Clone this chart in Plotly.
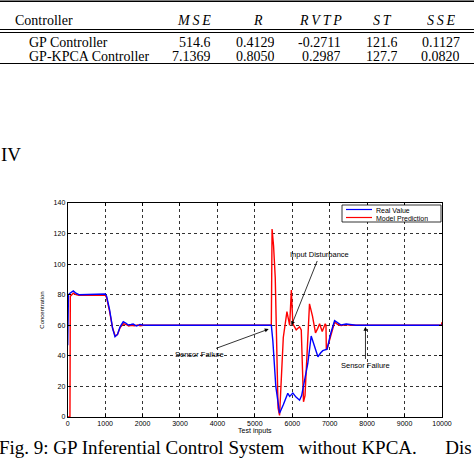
import plotly.graph_objects as go

W, H = 474, 459

# ---- table values ----
table_header = ["MSE", "R", "RVTP", "ST", "SSE"]
controllers = ["GP Controller", "GP-KPCA Controller"]
mse = ["514.6", "7.1369"]
r_val = ["0.4129", "0.8050"]
rvtp = ["-0.2711", "0.2987"]
st = ["121.6", "127.7"]
sse = ["0.1127", "0.0820"]

# ---- chart series ----
real_x = [0, 20, 60, 150, 220, 300, 1000, 1040, 1120, 1200, 1264, 1330, 1400, 1484,
          1550, 1618, 1690, 1750, 1840, 1930, 2000, 2090, 5440, 5480, 5560, 5660,
          5760, 5880, 5930, 6015, 6100, 6195, 6250, 6330, 6415, 6505, 6580, 6685,
          6760, 6815, 6930, 7030, 7130, 7220, 7305, 7440, 7560, 7700, 10000]
real_y = [47, 80, 81, 82.5, 81, 80, 80.5, 79, 70, 58, 52.5, 54, 59, 62.3,
          61.5, 60.2, 60.5, 60.8, 59.5, 60.6, 60.2, 60, 60, 50, 20, 2.5,
          8, 15.5, 13.5, 15.7, 13, 11, 14, 25, 35, 53, 47, 39.4,
          42, 43.4, 44.3, 55, 63, 61.5, 60.2, 60.8, 60.3, 60, 60]

pred_x = [0, 60, 70, 100, 150, 220, 300, 1000, 1040, 1120, 1200, 1270, 1330, 1400,
          1490, 1560, 1630, 1700, 1780, 1860, 1940, 2020, 2100, 5440, 5460, 5500,
          5545, 5580, 5620, 5660, 5700, 5760, 5857, 5930, 5975, 6015, 6105, 6195,
          6240, 6300, 6340, 6400, 6460, 6540, 6620, 6680, 6730, 6800, 6880, 6900,
          6910, 6930, 7030, 7130, 7220, 7305, 7440, 7560, 7700, 9985, 10000]
pred_y = [0, 0, 79, 80, 81, 80, 79.6, 79.8, 78, 69, 58, 53, 54, 58.5,
          61, 60.5, 59.5, 60, 59.6, 60.2, 59.6, 60, 60, 60, 123, 112,
          91, 55, 6, 1, 25, 52, 69, 60, 83, 61, 57, 59,
          57, 10, 14, 45, 74, 66, 55, 58, 61, 56, 61, 60,
          44, 44.5, 54, 62, 60.5, 59.8, 60.5, 60, 60, 60, 62]

x_ticks = list(range(0, 10001, 1000))
y_ticks = list(range(0, 141, 20))


def fx(x):
    return x / W


def fy(y):
    return 1 - y / H


SERIF = "Liberation Serif"
SANS = "Liberation Sans"

fig = go.Figure()
fig.add_trace(go.Scatter(x=pred_x, y=pred_y, mode="lines", name="Model Prediction",
                         line=dict(color="#ff0000", width=1.4), showlegend=False))
fig.add_trace(go.Scatter(x=real_x, y=real_y, mode="lines", name="Real Value",
                         line=dict(color="#0000ff", width=1.4), showlegend=False))

axis_common = dict(
    showline=True, linecolor="black", linewidth=1, mirror="ticks",
    ticks="inside", ticklen=3, tickcolor="black", automargin=False,
    showgrid=True, gridcolor="#333", gridwidth=0.7, griddash="dot",
    zeroline=False, tickfont=dict(family=SANS, size=7, color="black"),
)

fig.update_layout(
    width=W, height=H,
    margin=dict(l=0, r=0, t=0, b=0),
    paper_bgcolor="white", plot_bgcolor="white",
    showlegend=False,
    xaxis=dict(domain=[fx(67.7), fx(442)], range=[0, 10000], tickvals=x_ticks,
               ticktext=[str(v) for v in x_ticks],
               title=dict(text="Test inputs", font=dict(family=SANS, size=7, color="black"),
                          standoff=0),
               **axis_common),
    yaxis=dict(domain=[fy(417), fy(203)], range=[0, 140], tickvals=y_ticks,
               ticktext=[str(v) for v in y_ticks],
               title=dict(text="Concentration", font=dict(family=SANS, size=6, color="black"),
                          standoff=8),
               **axis_common),
)

shapes = []
annotations = []

# ---- table rules ----
for y, w in [(1.2, 1.6), (29.5, 1), (32.5, 1), (63.5, 1)]:
    shapes.append(dict(type="line", xref="paper", yref="paper", x0=0, x1=1,
                       y0=fy(y), y1=fy(y), line=dict(color="black", width=w)))

cell_font = dict(family=SERIF, size=14, color="black")

# header
annotations.append(dict(text="Controller", x=fx(13), y=fy(20.5), xref="paper", yref="paper",
                        xanchor="left", yanchor="middle", showarrow=False, height=13,
                        font=cell_font))
head_cx = [193.5, 258, 320, 382.5, 441.5]
for name, cx in zip(table_header, head_cx):
    annotations.append(dict(text="<i>" + "\u2009".join(name) + "</i>", x=fx(cx), y=fy(20.5),
                            xref="paper", yref="paper", xanchor="center", yanchor="middle",
                            showarrow=False, height=13, font=cell_font))

# rows
row_y = [42.5, 55.5]
val_right = [213, 277, 343, 400, 462]
for i, ctrl in enumerate(controllers):
    annotations.append(dict(text=ctrl, x=fx(27), y=fy(row_y[i]), xref="paper", yref="paper",
                            xanchor="left", yanchor="middle", showarrow=False, height=12,
                            font=cell_font))
    for col, xr in zip([mse, r_val, rvtp, st, sse], val_right):
        annotations.append(dict(text=col[i], x=fx(xr), y=fy(row_y[i]), xref="paper",
                                yref="paper", xanchor="right", yanchor="middle",
                                showarrow=False, height=12, font=cell_font))

# section label
annotations.append(dict(text="IV", x=fx(-1), y=fy(154), xref="paper", yref="paper",
                        xanchor="left", yanchor="middle", showarrow=False,
                        font=dict(family=SERIF, size=19, color="black")))

# caption (the page is cut just below it; justified spacing)
annotations.append(dict(text="Fig. 9: GP Inferential Control System\u2002 without KPCA.\u2003\u2002Dis",
                        x=fx(-3), y=fy(436), xref="paper", yref="paper",
                        xanchor="left", yanchor="top", valign="bottom", height=20,
                        showarrow=False, font=dict(family=SERIF, size=19, color="black")))

# ---- legend box (drawn by hand to match the compact MATLAB legend) ----
shapes.append(dict(type="rect", xref="paper", yref="paper", x0=fx(342), x1=fx(441),
                   y0=fy(222), y1=fy(205), fillcolor="white",
                   line=dict(color="black", width=0.8)))
for yy, color, label in [(209.5, "#0000ff", "Real Value"), (217.5, "#ff0000", "Model Prediction")]:
    shapes.append(dict(type="line", xref="paper", yref="paper", x0=fx(346), x1=fx(372),
                       y0=fy(yy), y1=fy(yy), line=dict(color=color, width=1.2)))
    annotations.append(dict(text=label, x=fx(374), y=fy(yy), xref="paper", yref="paper",
                            xanchor="left", yanchor="middle", showarrow=False, height=8,
                            font=dict(family=SANS, size=7, color="black")))

# ---- arrow annotations ----
arrow_font = dict(family=SANS, size=7.5, color="black")
for text, x, y, ax, ay in [
    ("Input Disturbance", 5980, 60, 6730, 106),
    ("Sensor Failure", 5370, 57.5, 3530, 41),
    ("Sensor Failure", 7955, 59, 7955, 34),
]:
    annotations.append(dict(text=text, x=x, y=y, ax=ax, ay=ay, xref="x", yref="y",
                            axref="x", ayref="y", showarrow=True, arrowhead=2,
                            arrowsize=1, arrowwidth=0.8, arrowcolor="black",
                            font=arrow_font))

fig.update_layout(shapes=shapes, annotations=annotations)

# the default page body has an 8px margin; drop it so the figure fills the window
fig.write_html("out.html", config={"displayModeBar": False},
               post_script="document.body.style.margin='0';document.body.style.overflow='hidden';")
